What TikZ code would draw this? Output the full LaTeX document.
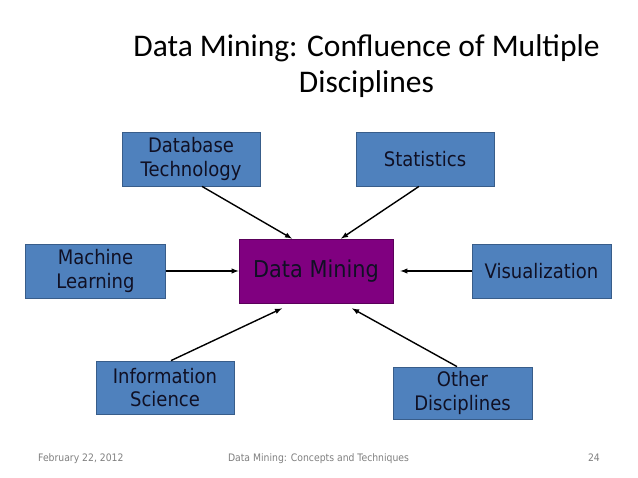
\documentclass[tikz,border=0pt]{standalone}
\usepackage{fontspec}
\setmainfont[FakeStretch=0.9]{DejaVu Sans}
\newfontfamily\titlefont{Carlito}
\usetikzlibrary{arrows}
\definecolor{boxblue}{RGB}{79,129,189}
\definecolor{boxline}{RGB}{56,93,138}
\definecolor{dmpurple}{RGB}{128,0,128}
\definecolor{dmline}{RGB}{90,0,90}
\definecolor{inktext}{RGB}{16,16,36}
\definecolor{footgray}{RGB}{128,128,128}
\tikzset{
  discbox/.style={draw=boxline,line width=0.8pt,fill=boxblue,text=inktext,
    minimum width=138pt,minimum height=54pt,inner sep=0pt,align=center,
    font=\fontsize{20}{23.5}\selectfont},
  corebox/.style={draw=dmline,line width=0.8pt,fill=dmpurple,text=inktext,
    minimum width=154pt,minimum height=64pt,inner sep=0pt,
    font=\fontsize{23.2}{26}\selectfont},
  feed/.style={-latex,line width=1.4pt,black},
  foot/.style={text=footgray,inner sep=0pt,font=\fontsize{10.3}{12}\selectfont}
}
\begin{document}
\begin{tikzpicture}[x=1pt,y=-1pt]
  \useasboundingbox[fill=white] (0,0) rectangle (638,478);
  \def\Tt{(366.5,66)}
  \def\Db{(191,159)}
  \def\St{(425,159)}
  \def\Dm{(316,271)}
  \def\Ml{(95.5,271)}
  \def\Vi{(541.5,271)}
  \def\In{(165,387.5)}
  \def\Ot{(462.5,393)}
  \node (title) at \Tt [align=center,inner sep=0pt,font=\titlefont\fontsize{31.5}{36}\selectfont]
    {Data Mining: Confluence of Multiple\\Disciplines};
  \node[corebox]  (dm)    at \Dm {Data Mining};
  \node[discbox]  (db)    at \Db {Database\\Technology};
  \node[discbox]  (stat)  at \St {Statistics};
  \node[discbox,minimum width=140pt] (ml) at \Ml {Machine\\Learning};
  \node[discbox,minimum width=139pt] (vis) at \Vi {Visualization};
  \node[discbox,minimum height=53pt] (info) at \In {Information\\Science};
  \node[discbox,minimum width=139pt,minimum height=52pt] (other) at \Ot {Other\\Disciplines};
  \draw[feed] ([xshift=11pt]db.south) -- ([xshift=-24pt]dm.north);
  \draw[feed] ([xshift=-6pt]stat.south) -- ([xshift=25pt]dm.north);
  \draw[feed] (ml.east) -- (dm.west);
  \draw[feed] (vis.west) -- ([xshift=7pt]dm.east);
  \draw[feed] ([xshift=6pt]info.north) -- ([xshift=-34pt,yshift=-5pt]dm.south);
  \draw[feed] ([xshift=-5.5pt]other.north) -- ([xshift=36pt,yshift=-5pt]dm.south);
  \node[foot,anchor=base west] (date) at (38,462) {February 22, 2012};
  \node[foot,anchor=base] (course) at (318.5,462) {Data Mining: Concepts and Techniques};
  \node[foot,anchor=base east] (page) at (600,462) {24};
\end{tikzpicture}
\end{document}
